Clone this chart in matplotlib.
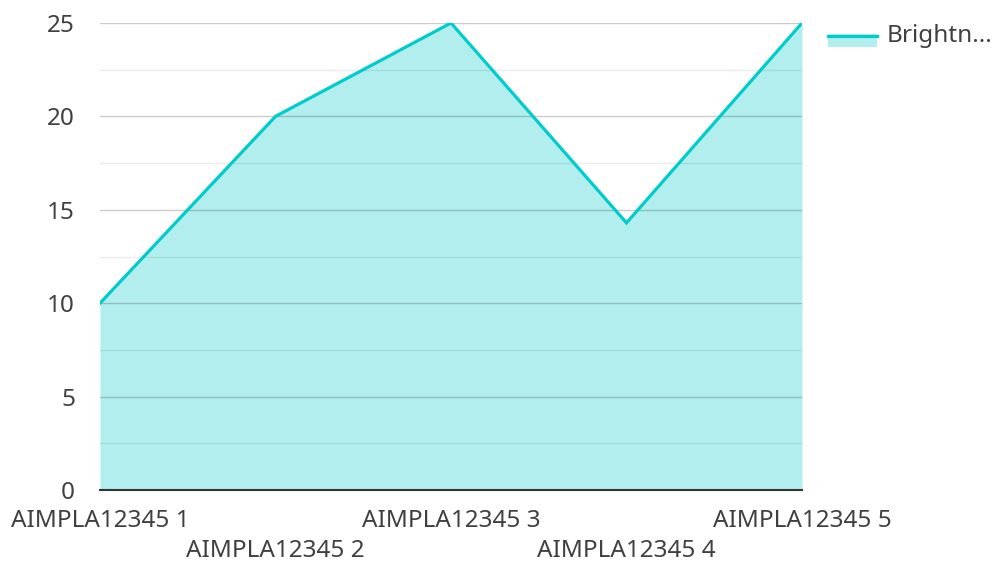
import matplotlib.pyplot as plt
from matplotlib.lines import Line2D
from matplotlib.patches import Rectangle

# data
categories = ["AIMPLA12345 1", "AIMPLA12345 2", "AIMPLA12345 3", "AIMPLA12345 4", "AIMPLA12345 5"]
brightness = [10, 20, 25, 14.3, 25]
series_label = "Brightn..."

LINE = "#00CCCC"
FILL = "#B2EEEE"
TEXT = "#404040"

plt.rcParams.update({
    "font.family": ["Noto Sans", "DejaVu Sans"],
    "font.size": 17.5,
})

W, H = 994, 563
fig = plt.figure(figsize=(W / 100, H / 100), dpi=100)
ax = fig.add_axes([100 / W, 1 - 490 / H, 702 / W, 467 / H])

x = list(range(len(categories)))
ax.fill_between(x, brightness, 0, color=FILL, lw=0, zorder=1)
ax.plot(x, brightness, color=LINE, lw=2.3, zorder=3, solid_joinstyle="miter")

ax.set_xlim(0, len(categories) - 1)
ax.set_ylim(0, 25)
ax.set_yticks([0, 5, 10, 15, 20, 25])
ax.set_yticks([2.5, 7.5, 12.5, 17.5, 22.5], minor=True)
ax.grid(True, which="major", axis="y", color="#000000", alpha=0.2, lw=1, zorder=2)
ax.grid(True, which="minor", axis="y", color="#000000", alpha=0.08, lw=1, zorder=2)
ax.set_axisbelow(False)

for s in ["top", "right", "left"]:
    ax.spines[s].set_visible(False)
ax.spines["bottom"].set_color("#333333")
ax.spines["bottom"].set_linewidth(1.5)
ax.spines["bottom"].set_zorder(4)

ax.tick_params(axis="y", which="both", length=0, pad=18, labelcolor=TEXT)
ax.tick_params(axis="x", length=0, pad=0)
ax.set_xticks(x)
ax.set_xticklabels([])
for i, lab in enumerate(categories):
    ax.annotate(lab, (i, 0), xycoords=("data", "axes fraction"),
                xytext=(0, -31 if i % 2 == 0 else -61), textcoords="offset pixels",
                ha="center", va="center", color=TEXT, fontsize=17.5)

# legend drawn by hand (line over a filled swatch)
fig.add_artist(Rectangle((828 / W, 1 - 47 / H), 49 / W, 13 / H, transform=fig.transFigure,
                         color=FILL, lw=0))
fig.add_artist(Line2D([828 / W, 877 / W], [1 - 36 / H, 1 - 36 / H], transform=fig.transFigure,
                      color=LINE, lw=2.3))
fig.text(887 / W, 1 - 36 / H, series_label, ha="left", va="center", color=TEXT, fontsize=17.5)

fig.savefig("out.png", dpi=100)
